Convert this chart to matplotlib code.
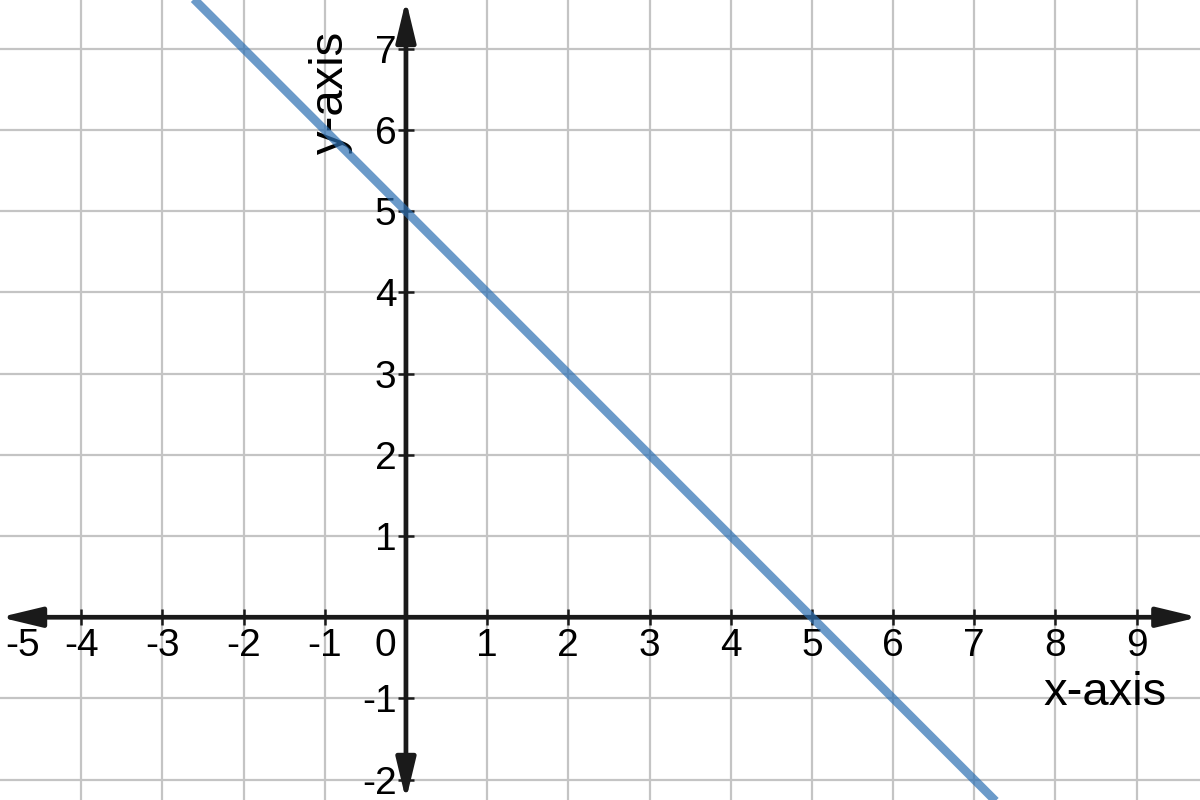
import matplotlib
matplotlib.use("Agg")
import matplotlib.pyplot as plt

plt.rcParams['font.family'] = ['Liberation Sans', 'DejaVu Sans']

line_x = [-3, 8]
line_y = [8, -3]

x_ticks = [-4, -3, -2, -1, 1, 2, 3, 4, 5, 6, 7, 8, 9]
y_ticks = [-2, -1, 1, 2, 3, 4, 5, 6, 7]
x_labels = [str(v) for v in x_ticks]
y_labels = [str(v) for v in y_ticks]

xmin, xmax = -5.0, 9.78
ymin, ymax = -2.25, 7.6

fig = plt.figure(figsize=(12, 8), dpi=100)
ax = fig.add_axes([0, 0, 1, 1])
ax.set_xlim(xmin, xmax)
ax.set_ylim(ymin, ymax)

ax.spines['left'].set_position(('data', 0))
ax.spines['bottom'].set_position(('data', 0))
for s in ax.spines.values():
    s.set_visible(False)

ax.set_xticks(x_ticks)
ax.set_xticklabels(x_labels)
ax.set_yticks(y_ticks)
ax.set_yticklabels(y_labels)
ax.tick_params(direction='inout', length=11.5, width=1.8, color='#1a1a1a',
               labelsize=28, labelcolor='#000000')
ax.tick_params(axis='x', pad=2)
ax.tick_params(axis='y', pad=1)

ax.grid(True, color='#c4c4c4', linewidth=1.6)
ax.set_axisbelow(True)

# axis lines with arrows
arrow = dict(arrowstyle='<|-|>,head_length=2.5,head_width=0.6', lw=3.4,
             color='#1a1a1a', shrinkA=0, shrinkB=0, mutation_scale=10)
ax.annotate('', xy=(xmax - 0.02, 0), xytext=(xmin, 0), arrowprops=arrow,
            annotation_clip=False, zorder=3)
ax.annotate('', xy=(0, ymax), xytext=(0, ymin), arrowprops=arrow,
            annotation_clip=False, zorder=3)

ax.plot(line_x, line_y, color='#2d70b3', alpha=0.7, linewidth=6.2,
        solid_capstyle='butt', zorder=4)

# labels that sit off their ticks
ax.text(-4.72, -0.128, '-5', fontsize=28, ha='center', va='top')
ax.text(-0.26, -0.128, '0', fontsize=28, ha='center', va='top')

ax.text(8.61, -1.084, 'x-axis', fontsize=34, ha='center', va='baseline')
ax.text(-0.92, 6.46, 'y-axis', fontsize=34, ha='center', va='center',
        rotation=90)

fig.savefig('out.png', dpi=100)
